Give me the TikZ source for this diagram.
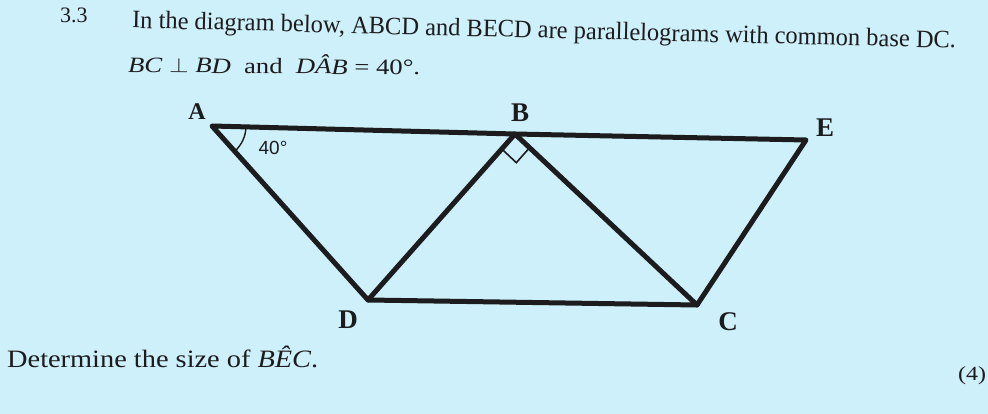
\documentclass[tikz,border=0pt]{standalone}
\usepackage{fontspec}
\setmainfont{Liberation Serif}
\newfontfamily\lsans{Liberation Sans}
\usepackage{graphicx}
\usetikzlibrary{calc}
\definecolor{paper}{RGB}{206,240,250}
\definecolor{ink}{RGB}{28,28,30}
\begin{document}
\begin{tikzpicture}[x=1pt,y=-1pt,
  edge/.style={draw=ink,line width=5pt,line join=round,line cap=round},
  vlabel/.style={text=ink,font=\bfseries\fontsize{27}{27}\selectfont,inner sep=0pt},
  txt/.style={text=ink,inner sep=0pt,anchor=west}]
\fill[paper] (0,0) rectangle (988,414);
\useasboundingbox (0,0) rectangle (988,414);
% text
\node[txt,font=\fontsize{22}{24}\selectfont] (num) at (60,15) {3.3};
\node[txt,font=\fontsize{25}{28}\selectfont,rotate=-1.4] (l1) at (132,22)
  {\resizebox{824pt}{\height}{In the diagram below, ABCD and BECD are parallelograms with common base DC.}};
\node[txt,font=\fontsize{22}{24}\selectfont,rotate=-0.5] (l2) at (128,63)
  {\resizebox{292pt}{\height}{\textit{BC} $\perp$ \textit{BD}\ \ and\ \ \textit{D\^{A}B} = 40°.}};
\node[txt,font=\fontsize{25}{28}\selectfont] (q) at (7,357)
  {\resizebox{311pt}{\height}{Determine the size of \textit{B\^{E}C}.}};
\node[txt,font=\fontsize{20}{22}\selectfont] (mk) at (958,376)
  {\resizebox{28pt}{\height}{(4)}};
% points
\coordinate (A) at (212,126);
\coordinate (B) at (515,134);
\coordinate (E) at (806,140);
\coordinate (D) at (368,300);
\coordinate (C) at (697,305);
% figure
\draw[edge] (A) -- (B) -- (E) -- (C) -- (D) -- cycle;
\draw[edge] (D) -- (B) -- (C);
% right angle at B
\coordinate (r1) at ($(B)!20pt!(D)$);
\coordinate (r3) at ($(B)!20pt!(C)$);
\draw[ink,line width=1.6pt] (r1) -- ($(r1)+(r3)-(B)$) -- (r3);
% angle at A
\draw[ink,line width=1.4pt] ($(A)!34pt!(B)$) arc[start angle=1.5,end angle=48,radius=34];
\node[text=ink,font=\lsans\fontsize{19}{19}\selectfont,inner sep=0pt] (ang) at (273,148) {40°};
% labels
\node[vlabel,font=\bfseries\fontsize{24}{24}\selectfont] (lA) at (197,112) {A};
\node[vlabel] (lB) at (520,113) {B};
\node[vlabel] (lE) at (825,128) {E};
\node[vlabel] (lD) at (348,320) {D};
\node[vlabel] (lC) at (728,322) {C};
\end{tikzpicture}
\end{document}
